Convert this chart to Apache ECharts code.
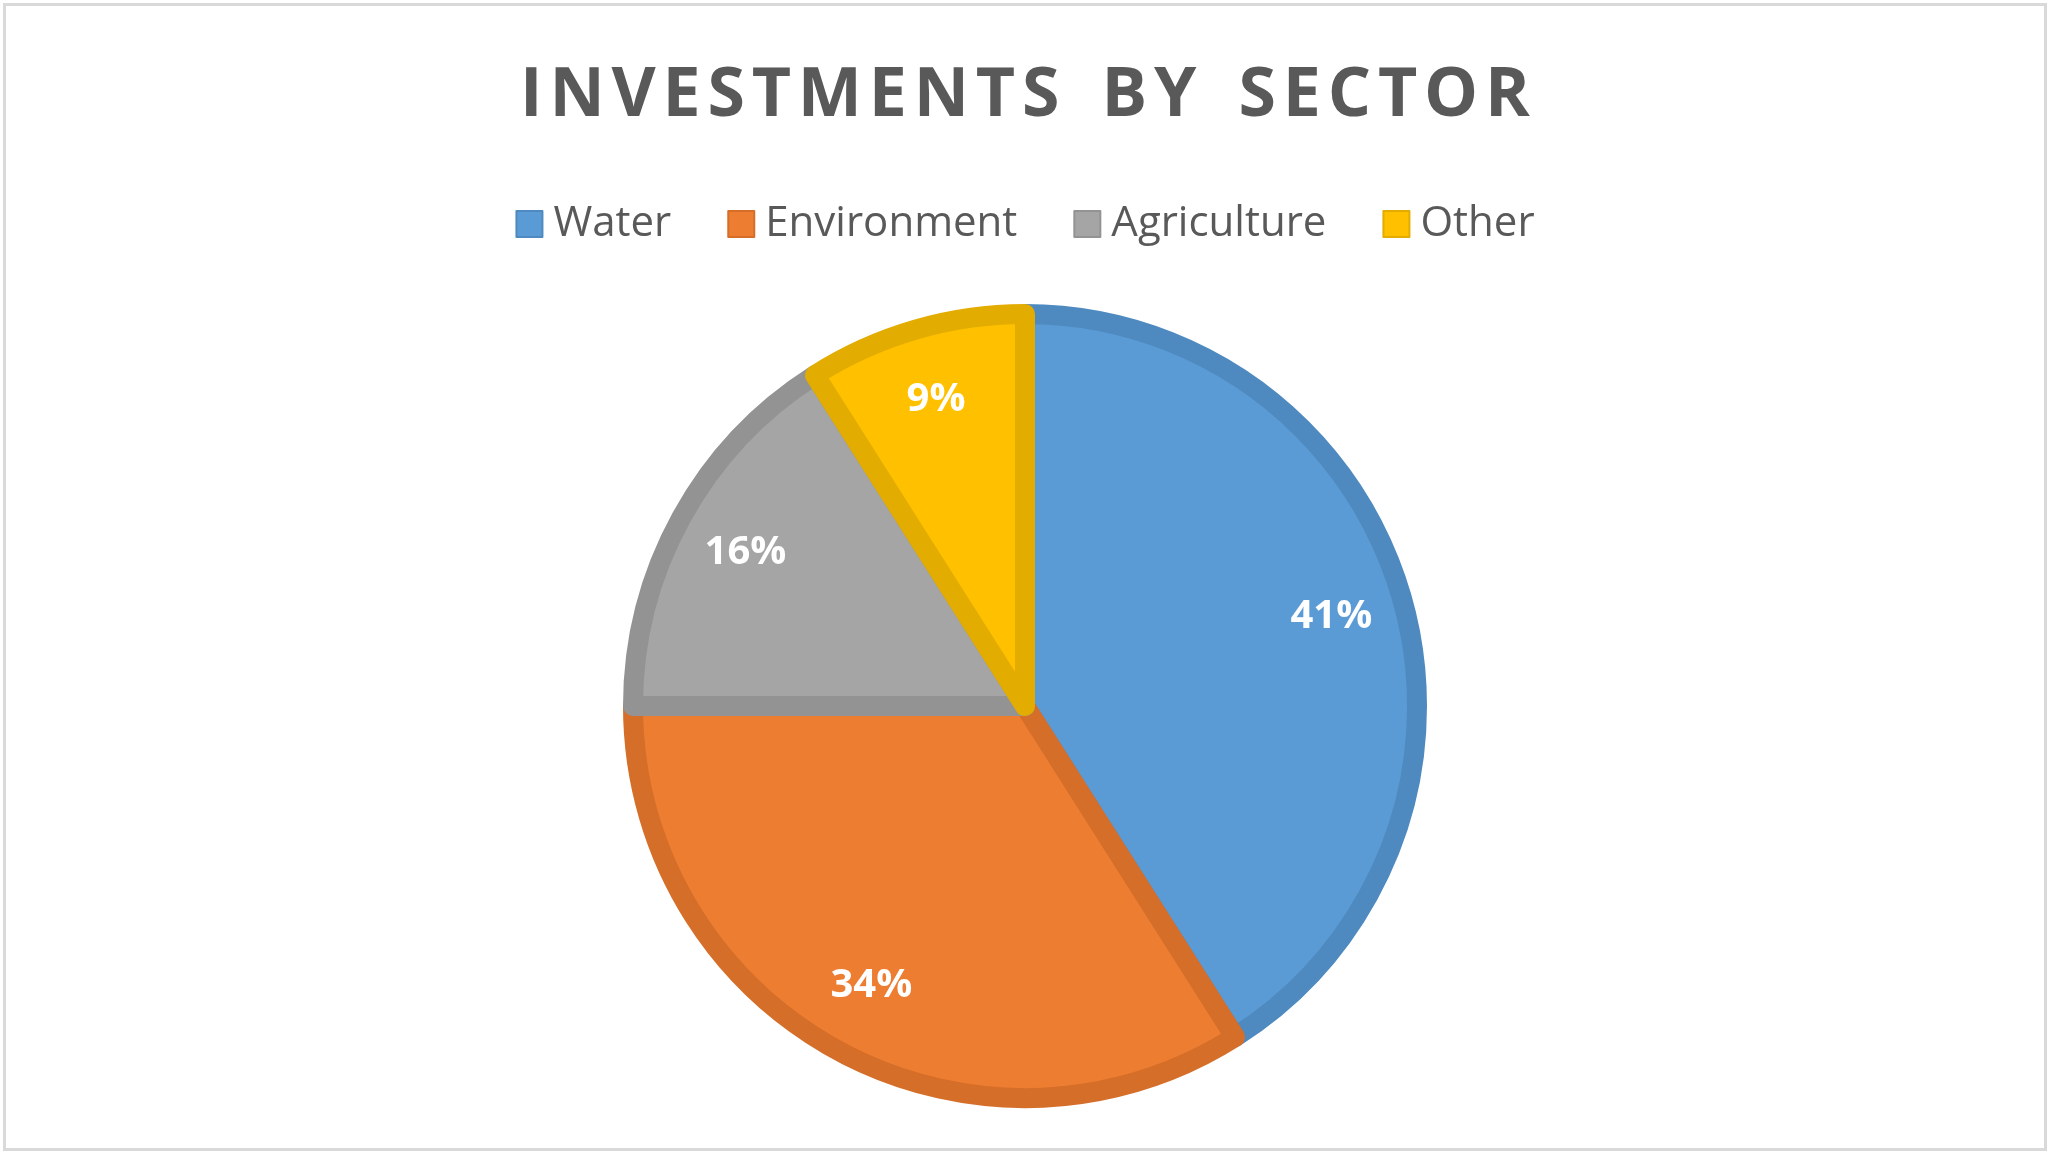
<!DOCTYPE html>
<html><head><meta charset="utf-8">
<script src="https://cdn.jsdelivr.net/npm/echarts@6/dist/echarts.min.js"></script>
<style>
html,body{margin:0;padding:0;background:#fff;}
#chart{position:absolute;left:3px;top:3px;width:2038px;height:1142px;border:3px solid #d9d9d9;}
</style></head>
<body><div id="chart"></div>
<script>
// 数据
var sectors = ['Water', 'Environment', 'Agriculture', 'Other'];
var shares = [41, 34, 16, 9];
var fills = ['#5B9BD5', '#ED7D31', '#A5A5A5', '#FFC000'];
var edges = ['#4E8AC0', '#D56E29', '#939393', '#E3AC00'];

var chart = echarts.init(document.getElementById('chart'));
var pieData = sectors.map(function(n, i){
	return {name: n, value: shares[i], itemStyle: {color: fills[i], borderColor: edges[i]}};
});
var labelData = sectors.map(function(n, i){ return {name: n, value: shares[i]}; });

chart.setOption({
	title: {
		text: 'I N V E S T M E N T S   B Y   S E C T O R'.replace(/ (?! )/g, '\u200A'),
		left: 'center', top: 52,
		textStyle: {fontFamily: 'Open Sans', fontSize: 68, fontWeight: 'bold', color: '#595959'}
	},
	legend: {
		top: 192, left: 'center',
		itemWidth: 26, itemHeight: 26, itemGap: 56,
		icon: 'rect',
		data: sectors,
		textStyle: {fontFamily: 'Open Sans', fontSize: 42, color: '#595959', padding: [0, 0, 0, 6]}
	},
	series: [{
		type: 'pie',
		center: ['50%', '61.3%'],
		radius: 392,
		startAngle: 90,
		clockwise: true,
		silent: true,
		label: {show: false},
		itemStyle: {borderWidth: 20},
		data: pieData
	}, {
		type: 'pie',
		center: ['50%', '61.3%'],
		radius: [240, 392],
		startAngle: 90,
		clockwise: true,
		silent: true,
		legendHoverLink: false,
		itemStyle: {color: 'transparent'},
		label: {
			show: true, position: 'inside',
			formatter: '{c}%',
			fontFamily: 'Open Sans', fontSize: 40, fontWeight: 'bold', color: '#fff'
		},
		labelLine: {show: false},
		data: labelData
	}]
});
</script></body></html>
